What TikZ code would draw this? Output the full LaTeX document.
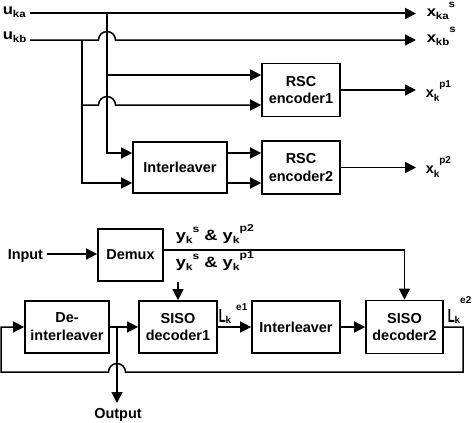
\documentclass[tikz,border=0pt]{standalone}
\usepackage{fontspec}
\setmainfont{Liberation Sans}
\usetikzlibrary{arrows.meta}
\newcommand\lsub[2][3bp]{\raisebox{-#1}{\fontsize{10}{11}\selectfont #2}}
\newcommand\lsup[2][8bp]{\raisebox{#1}{\fontsize{10}{11}\selectfont #2}}
\newcommand\bigL{\scalebox{0.6}[1]{\fontsize{19}{19}\selectfont L}}
\newcommand\wide[2]{\scalebox{#1}[1]{#2}}
\begin{document}
\begin{tikzpicture}[x=1bp,y=1bp,
  line width=1.5bp,
  arr/.style={-{Triangle[length=11bp,width=11bp]}},
  blk/.style={draw,line width=1.7bp,align=center,
    font=\fontsize{14.5}{18}\selectfont\bfseries,inner sep=0pt},
  lbl/.style={font=\fontsize{14.5}{16}\selectfont\bfseries,inner sep=0pt}
]
\useasboundingbox (0,0) rectangle (474,422);

% ---------- encoder ----------
\node[blk,minimum width=94bp,minimum height=51bp] (int1) at (180,254.5) {Interleaver};
\node[blk,minimum width=78bp,minimum height=53bp] (enc1) at (301,332) {RSC\\encoder1};
\node[blk,minimum width=78bp,minimum height=53bp] (enc2) at (301,254.5) {RSC\\encoder2};

\node[lbl,anchor=base west] (uka) at (2,407.5) {\wide{1.15}{u\lsub{ka}}};
\node[lbl,anchor=base west] (ukb) at (2,382.5) {\wide{1.15}{u\lsub{kb}}};
\node[lbl,anchor=base west] (xkas) at (426,405) {\wide{1.15}{x\lsub{ka}\lsup[9bp]{s}}};
\node[lbl,anchor=base west] (xkbs) at (426,380) {\wide{1.15}{x\lsub{kb}\lsup[10bp]{s}}};
\node[lbl,anchor=base west] (xkp1) at (425,325) {x\lsub[4bp]{k}\lsup[10bp]{p1}};
\node[lbl,anchor=base west] (xkp2) at (425,249) {x\lsub[4bp]{k}\lsup[10bp]{p2}};

\coordinate (ua) at (30,408.5);
\coordinate (ub) at (30,382);
\coordinate (ja) at (107,408.5);
\coordinate (jb) at (82,382);
\coordinate (ja2) at (107,347);
\coordinate (jb2) at (82,317);
\coordinate (ea) at (416,408.5);
\coordinate (eb) at (416,382);

\draw[arr,line width=2bp] (ua) -- (ea);
\draw[arr] (ub) -- (98.5,382) arc[start angle=180,end angle=0,radius=8.5bp] -- (eb);
\draw[arr] (ja) |- ([yshift=14.5bp]int1.west);
\draw[arr] (jb) |- ([yshift=-15.5bp]int1.west);
\draw[arr] (ja2) -- (ja2 -| enc1.west);
\draw[arr] (jb2) -- (98.5,317) arc[start angle=180,end angle=0,radius=8.5bp] -- (jb2 -| enc1.west);
\draw[arr] ([yshift=14.5bp]int1.east) -- ([yshift=14.5bp]int1.east -| enc2.west);
\draw[arr] ([yshift=-15.5bp]int1.east) -- ([yshift=-15.5bp]int1.east -| enc2.west);
\draw[arr] (enc1.east) -- (enc1.east -| ea);
\draw[arr] (enc2.east) -- (enc2.east -| ea);

% ---------- decoder ----------
\node[blk,minimum width=65bp,minimum height=52bp] (demux) at (130.5,167) {Demux};
\node[blk,minimum width=84bp,minimum height=52bp] (deint) at (67,95) {De-\\interleaver};
\node[blk,minimum width=78bp,minimum height=52bp] (dec1) at (178,95) {SISO\\decoder1};
\node[blk,minimum width=88bp,minimum height=52bp] (int2) at (296,95) {Interleaver};
\node[blk,minimum width=77bp,minimum height=53bp] (dec2) at (404.5,95) {SISO\\decoder2};

\node[lbl,anchor=base west] (input) at (7,163) {Input};
\node[lbl,anchor=base] (output) at (118,4) {Output};
\node[lbl,anchor=base west] (yp2) at (175,182) {\wide{1.22}{\fontsize{15}{16}\selectfont y\lsub{k}\lsup{s} \& y\lsub{k}\lsup[8.5bp]{p2}}};
\node[lbl,anchor=base west] (yp1) at (175,155) {\wide{1.22}{\fontsize{15}{16}\selectfont y\lsub{k}\lsup{s} \& y\lsub{k}\lsup[8.5bp]{p1}}};
\node[lbl,anchor=base west] (le1) at (218,100) {\bigL\lsub[1bp]{k}\hspace{5bp}\lsup[12bp]{e1}};
\node[lbl,anchor=base west] (le2) at (447,100) {\bigL\lsub[1bp]{k}\lsup[19bp]{e2}};

\coordinate (inp) at (47,168);
\coordinate (tap) at (117,95);
\coordinate (fbr) at (463,95);
\coordinate (fbl) at (1,95);

\draw[arr] (inp) -- (inp -| demux.west);
\draw[arr] ([yshift=5bp]demux.east) -| (dec2.north);
\draw[arr] (dec1.north |- demux.south) -- (dec1.north);
\draw[arr] (deint.east) -- (dec1.west);
\draw[arr] (dec1.east) -- (int2.west);
\draw[arr] (int2.east) -- (dec2.west);
\draw[arr] (tap) -- (117,19);
\draw[arr] (dec2.east) -- (fbr) -- (463,50) -- (125.5,50)
  arc[start angle=0,end angle=180,radius=8.5bp] -- (1,50) -- (fbl) -- (deint.west);
\end{tikzpicture}
\end{document}
